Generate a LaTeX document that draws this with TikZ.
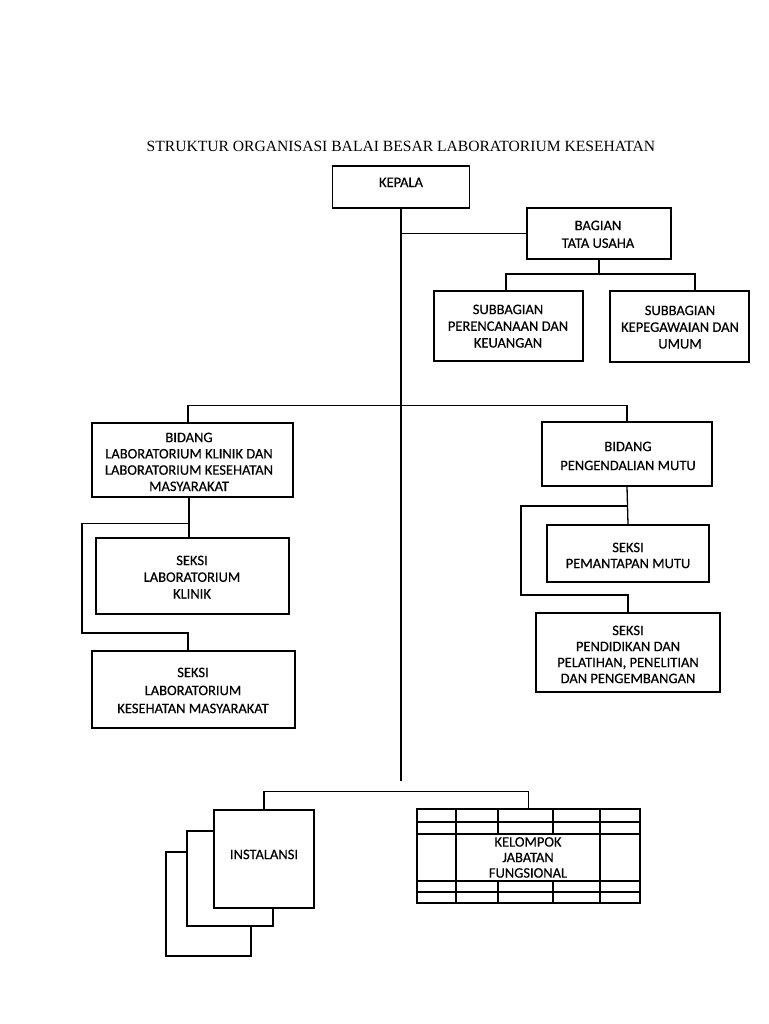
\documentclass[tikz,border=0pt]{standalone}
\usepackage{fontspec}
\setmainfont{Liberation Serif}
\newfontfamily\kotakfont[FakeBold=0.35]{Carlito}
\tikzset{
  kotak/.style={draw, line width=1.3pt, fill=white, inner sep=0pt},
  kotaktebal/.style={kotak, line width=1.7pt},
  teks/.style={anchor=north, inner sep=0pt, align=center, font=\kotakfont\fontsize{14.5}{16.7}\selectfont},
  garis/.style={line width=1.3pt}
}
\begin{document}
\begin{tikzpicture}[x=1pt, y=-1pt]
  \useasboundingbox (0,0) rectangle (768,1024);
  \node at (401,152) [anchor=base, font=\fontsize{15.6}{18}\selectfont] (judul) {STRUKTUR ORGANISASI BALAI BESAR LABORATORIUM KESEHATAN};
  % kotak-kotak
  \node[kotak, minimum width=137pt, minimum height=42pt] (kepala) at (401,187) {};
  \node[kotaktebal, minimum width=144pt, minimum height=51pt] (bagian) at (599,233.5) {};
  \node[kotak, minimum width=149pt, minimum height=70pt] (subPK) at (508.5,326) {};
  \node[kotaktebal, minimum width=139pt, minimum height=71pt] (subKU) at (679.5,326.5) {};
  \node[kotak, minimum width=201pt, minimum height=74pt] (bidLab) at (192.5,460) {};
  \node[kotak, minimum width=193pt, minimum height=76pt] (seksiKlinik) at (192.5,576) {};
  \node[kotak, minimum width=203pt, minimum height=77pt] (seksiKesmas) at (193.5,689.5) {};
  \node[kotaktebal, minimum width=170pt, minimum height=64pt] (bidMutu) at (627,454) {};
  \node[kotak, minimum width=162pt, minimum height=57pt] (seksiPM) at (628,553.5) {};
  \node[kotak, minimum width=184pt, minimum height=79pt] (seksiPend) at (628,652.5) {};
  % tumpukan instalansi
  \draw[kotak] (166,852) rectangle (251,956);
  \draw[kotak] (187,831) rectangle (273,926);
  \node[kotak, minimum width=100pt, minimum height=98pt] (inst) at (264,859) {};
  % tabel kelompok jabatan fungsional
  \node[kotak, minimum width=223pt, minimum height=94pt] (kjf) at (528.5,856) {};
  \foreach \y in {822,834,881,892} { \draw[garis](417,\y)--(640,\y); }
  \foreach \x in {456,600} { \draw[garis](\x,809)--(\x,903); }
  \foreach \x in {498,553}
    {
      \draw[garis](\x,809)--(\x,834);
      \draw[garis](\x,881)--(\x,903);
    }
  % teks
  \node[teks] at (401,177.5) {KEPALA};
  \node[teks, font=\kotakfont\fontsize{14.5}{17.7}\selectfont] at (598,220.5) {BAGIAN\\TATA USAHA};
  \node[teks] at (508,304.5) {SUBBAGIAN\\PERENCANAAN DAN\\KEUANGAN};
  \node[teks] at (680,305.5) {SUBBAGIAN\\KEPEGAWAIAN DAN\\UMUM};
  \node[teks, font=\kotakfont\fontsize{14.5}{16.3}\selectfont] at (189,432.5) {BIDANG\\LABORATORIUM KLINIK DAN\\LABORATORIUM KESEHATAN\\MASYARAKAT};
  \node[teks] at (192,555.5) {SEKSI\\LABORATORIUM\\KLINIK};
  \node[teks, font=\kotakfont\fontsize{14.5}{18}\selectfont] at (193,667.5) {SEKSI\\LABORATORIUM\\KESEHATAN MASYARAKAT};
  \node[teks, font=\kotakfont\fontsize{14.5}{19}\selectfont] at (628,441.5) {BIDANG\\PENGENDALIAN MUTU};
  \node[teks, font=\kotakfont\fontsize{14.5}{16}\selectfont] at (628,542.5) {SEKSI\\PEMANTAPAN MUTU};
  \node[teks, font=\kotakfont\fontsize{14.5}{16}\selectfont] at (628,625.5) {SEKSI\\PENDIDIKAN DAN\\PELATIHAN, PENELITIAN\\DAN PENGEMBANGAN};
  \node[teks] at (264,849.5) {INSTALANSI};
  \node[teks, font=\kotakfont\fontsize{14.5}{15.5}\selectfont] at (528,837) {KELOMPOK\\JABATAN\\FUNGSIONAL};
  % garis penghubung
  \coordinate (ujung) at (401,781);
  \coordinate (belokA) at (82,633);
  \coordinate (belokB) at (521,595);
  \draw[garis] (kepala.south) -- (ujung);
  \draw[garis] (kepala.south |- bagian.west) -- (bagian.west);
  \draw[garis] (bagian.south) -- ++(0,14) coordinate (tu);
  \draw[garis] ([xshift=-2.5pt]subPK.north) |- (tu) -| ([xshift=15.5pt]subKU.north);
  \draw[garis] ([xshift=-4.5pt]bidLab.north) -- ++(0,-17) -| (bidMutu.north);
  \draw[garis] ([xshift=-3.5pt]bidLab.south) -- ([xshift=-3.5pt]bidLab.south |- seksiKlinik.north);
  \draw[garis] ([xshift=-3.5pt]bidLab.south) ++(0,26) -| (belokA) -| ([xshift=-5.5pt]seksiKesmas.north);
  \draw[garis] (bidMutu.south) -- (seksiPM.north);
  \draw[garis] (bidMutu.south) ++(0,19) -| (belokB) -| (seksiPend.north);
  \draw[garis] (inst.north) -- ++(0,-18) -| (kjf.north);
\end{tikzpicture}
\end{document}
